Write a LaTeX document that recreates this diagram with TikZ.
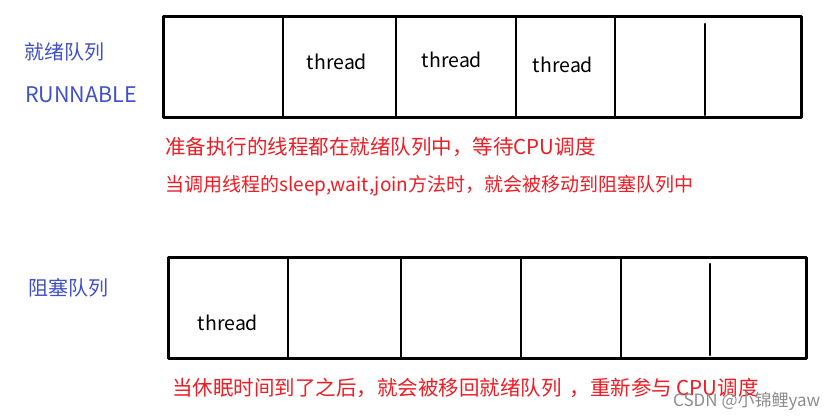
\documentclass[tikz,border=0pt]{standalone}
\usepackage{fontspec}
\setmainfont{Noto Sans CJK SC}
\usetikzlibrary{positioning}
\definecolor{qblue}{RGB}{64,80,200}
\definecolor{qred}{RGB}{238,28,36}
\begin{document}
\begin{tikzpicture}[line cap=round,line join=round,x=1pt,y=-1pt,
  every node/.style={font=\fontsize{19.5}{22}\selectfont,inner sep=0pt},
  qlabel/.style={text=qblue,anchor=west,font=\fontsize{20}{22}\selectfont},
  note/.style={text=qred,anchor=west,font=\fontsize{20.5}{22}\selectfont}]
\useasboundingbox (0,0) rectangle (838,419);
% 就绪队列
\draw[line width=3pt] (163,17) rectangle (801,118);
\foreach \x in {283,396,516,615}
\draw[line width=2.4pt] (\x,17) -- (\x,118);
\draw[line width=2.4pt] (705,24) -- (705,115);
\node[qlabel] (ready) at (24,52) {就绪队列};
\node[qlabel,font=\fontsize{21.5}{22}\selectfont] (runnable) at (25,95) {RUNNABLE};
\node (t1) at (337,62) {thread};
\node (t2) at (452,60) {thread};
\node (t3) at (563,65) {thread};
\node[note] (n1) at (165,147) {准备执行的线程都在就绪队列中，等待CPU调度};
\node[note,font=\fontsize{19}{22}\selectfont] (n2) at (165,186) {当调用线程的sleep,wait,join方法时，就会被移动到阻塞队列中};
% 阻塞队列
\draw[line width=3pt] (168,258) rectangle (806,359);
\foreach \x in {288,401,521,621}
\draw[line width=2.4pt] (\x,258) -- (\x,359);
\draw[line width=2.4pt] (710,264) -- (710,355);
\node[qlabel] (blocked) at (28,288) {阻塞队列};
\node (t4) at (228,323) {thread};
\node[note] (n3) at (172,388) {当休眠时间到了之后，就会被移回就绪队列\, ，重新参与 CPU调度};
\node[text=black!45,anchor=west,font=\fontsize{17}{20}\selectfont] (mark) at (673,401) {CSDN @小锦鲤yaw};
\end{tikzpicture}
\end{document}
